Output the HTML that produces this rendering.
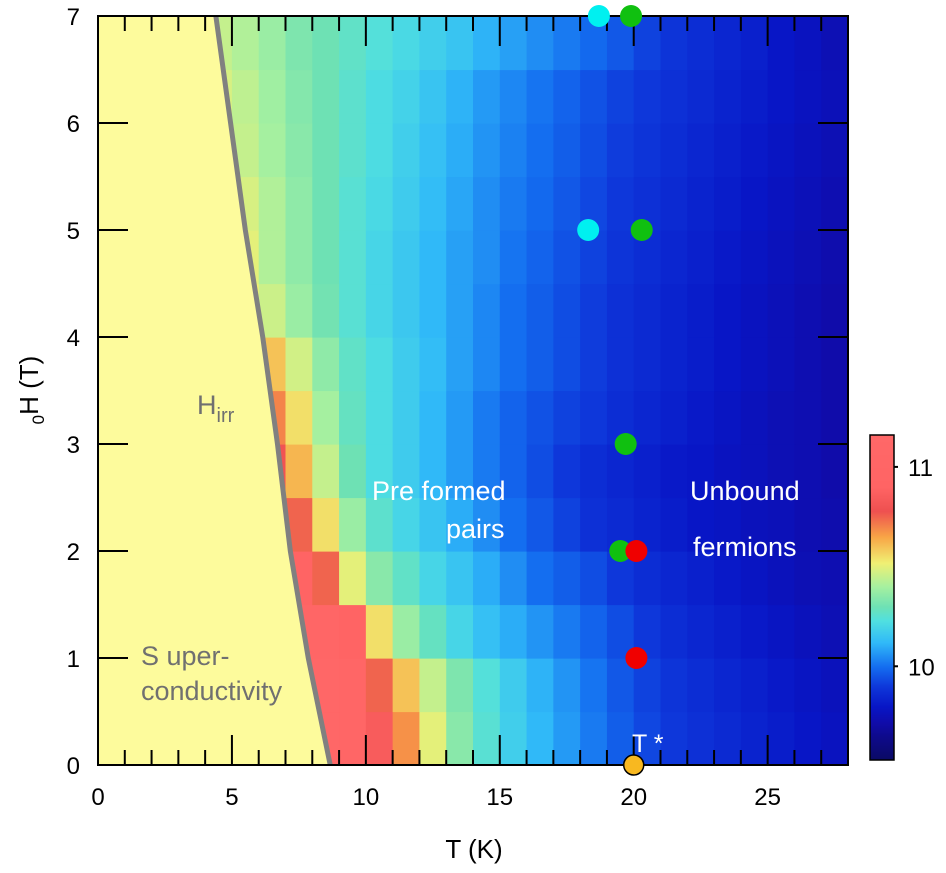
<!DOCTYPE html>
<html><head><meta charset="utf-8">
<style>
body{margin:0;background:#fff;}
svg text{font-family:"Liberation Sans",sans-serif;}
</style></head>
<body>
<svg id="chart" width="946" height="868" xmlns="http://www.w3.org/2000/svg">
<g id="heat"></g>
<g id="overlay"></g>
</svg>
<script>
// ---- data ----
const tCols = [0.5,1.5,2.5,3.5,4.5,5.5,6.5,7.5,8.5,9.5,10.5,11.5,12.5,13.5,14.5,15.5,16.5,17.5,18.5,19.5,20.5,21.5,22.5,23.5,24.5,25.5,26.5,27.5];
const hRows = [0.25,0.75,1.25,1.75,2.25,2.75,3.25,3.75,4.25,4.75,5.25,5.75,6.25,6.75];
const R = 11.0;
const heatValues = [
 [R,R,R,R,R,R,R,R,11.1,11.05,10.85,10.68,10.5,10.35,10.25,10.18,10.12,10.07,10.02,9.97,9.93,9.9,9.88,9.86,9.84,9.82,9.8,9.78],
 [R,R,R,R,R,R,R,R,11.1,11.05,10.75,10.6,10.45,10.33,10.24,10.17,10.11,10.06,10.01,9.96,9.92,9.89,9.87,9.85,9.83,9.81,9.79,9.77],
 [R,R,R,R,R,R,R,11.0,11.05,10.9,10.55,10.38,10.28,10.2,10.14,10.1,10.06,10.02,9.98,9.94,9.9,9.87,9.85,9.83,9.81,9.79,9.77,9.75],
 [R,R,R,R,R,R,R,10.9,10.75,10.5,10.35,10.27,10.2,10.15,10.1,10.05,10.0,9.97,9.94,9.9,9.87,9.85,9.83,9.81,9.79,9.77,9.75,9.74],
 [R,R,R,R,R,R,R,10.75,10.55,10.38,10.26,10.2,10.15,10.1,10.05,10.0,9.96,9.92,9.88,9.86,9.84,9.82,9.8,9.79,9.77,9.76,9.74,9.73],
 [R,R,R,R,R,R,10.8,10.62,10.45,10.3,10.22,10.17,10.12,10.07,10.02,9.98,9.94,9.9,9.87,9.85,9.83,9.81,9.8,9.78,9.77,9.75,9.74,9.72],
 [R,R,R,R,R,R,10.7,10.55,10.4,10.28,10.22,10.17,10.12,10.07,10.02,9.98,9.95,9.92,9.9,9.87,9.85,9.83,9.81,9.79,9.77,9.75,9.74,9.72],
 [R,R,R,R,R,R,10.6,10.47,10.36,10.27,10.22,10.17,10.13,10.08,10.04,10.0,9.97,9.94,9.91,9.88,9.86,9.84,9.82,9.8,9.78,9.76,9.74,9.72],
 [R,R,R,R,R,10.52,10.46,10.38,10.31,10.25,10.2,10.16,10.12,10.08,10.04,10.0,9.97,9.94,9.91,9.88,9.86,9.84,9.82,9.8,9.78,9.76,9.74,9.72],
 [R,R,R,R,R,10.5,10.42,10.36,10.3,10.25,10.2,10.16,10.12,10.08,10.05,10.01,9.98,9.95,9.92,9.89,9.87,9.85,9.83,9.81,9.79,9.77,9.75,9.73],
 [R,R,R,R,R,10.48,10.42,10.36,10.3,10.25,10.21,10.17,10.13,10.09,10.05,10.02,9.99,9.96,9.93,9.9,9.88,9.86,9.84,9.82,9.8,9.78,9.76,9.74],
 [R,R,R,R,10.5,10.45,10.4,10.35,10.3,10.26,10.22,10.18,10.14,10.1,10.06,10.03,10.0,9.97,9.94,9.91,9.89,9.87,9.85,9.83,9.81,9.79,9.77,9.75],
 [R,R,R,R,10.48,10.44,10.39,10.34,10.3,10.26,10.22,10.19,10.15,10.11,10.07,10.04,10.01,9.98,9.95,9.92,9.9,9.88,9.86,9.84,9.82,9.8,9.78,9.76],
 [R,R,R,R,10.45,10.42,10.38,10.33,10.3,10.27,10.24,10.21,10.18,10.15,10.11,10.08,10.05,10.02,9.99,9.96,9.92,9.89,9.87,9.85,9.83,9.8,9.78,9.75]
];
const hirrT = [8.67,7.85,7.18,6.7,6.15,5.5,4.95,4.4];
const hirrH = [0,1,2,3,4,5,6,7];
const ptT = [18.7,18.3,19.9,20.3,19.7,19.5,20.1,20.1,20.0];
const ptH = [7,5,7,5,3,2,2,1,0];
const ptKind = ['cyan','cyan','green','green','green','green','red','red','orange'];
const xTicks = [0,5,10,15,20,25];
const yTicks = [0,1,2,3,4,5,6,7];
const cbTicks = [10,11];

// ---- scales ----
const X0=98,X1=848,Y0=765,Y1=16, XMAX=28, YMAX=7;
const sx = t => X0 + t/XMAX*(X1-X0);
const sy = h => Y0 - h/YMAX*(Y0-Y1);
const CB_TOP=435, CB_BOT=760, CB_MAX=11.16, CB_MIN=9.53;
const scb = v => CB_BOT - (v-CB_MIN)/(CB_MAX-CB_MIN)*(CB_BOT-CB_TOP);
const stops = [[9.53,[10,10,100]],[9.65,[14,10,140]],[9.72,[16,12,170]],[9.8,[8,22,198]],[9.9,[14,55,218]],[10.0,[20,110,240]],[10.12,[48,185,248]],[10.23,[80,224,224]],[10.3,[110,225,180]],[10.4,[165,240,160]],[10.52,[240,240,115]],[10.65,[248,165,70]],[10.78,[238,80,80]],[10.9,[255,100,100]],[11.16,[255,104,104]]];
function cmap(v){
  if(v<=stops[0][0]) return 'rgb('+stops[0][1]+')';
  for(let i=1;i<stops.length;i++){ if(v<=stops[i][0]){const a=stops[i-1],b=stops[i],f=(v-a[0])/(b[0]-a[0]);
    return 'rgb('+a[1].map((c,k)=>Math.round(c+(b[1][k]-c)*f)).join(',')+')';}}
  return 'rgb('+stops[stops.length-1][1]+')';
}
const NS='http://www.w3.org/2000/svg';
function mk(tag,attrs,parent){const e=document.createElementNS(NS,tag);for(const k in attrs)e.setAttribute(k,attrs[k]);parent.appendChild(e);return e;}
const heat=document.getElementById('heat'), ov=document.getElementById('overlay');
const dT=1, dH=0.5;
hRows.forEach((h,r)=>{tCols.forEach((t,c)=>{
  const x=sx(t-dT/2), x2=sx(t+dT/2), y=sy(h+dH/2), y2=sy(h-dH/2);
  const e=mk('rect',{x:x,y:y,width:x2-x+0.6,height:y2-y+0.6,fill:cmap(heatValues[r][c])},heat);
  
  
});});
// superconducting region
let poly=`${sx(0)},${sy(0)} `+hirrT.map((t,i)=>`${sx(t)},${sy(hirrH[i])}`).join(' ')+` ${sx(0)},${sy(7)}`;
let sc=mk('polygon',{points:poly,fill:'#fdfb9c'},ov);


let hl=mk('polyline',{points:hirrT.map((t,i)=>`${sx(t)},${sy(hirrH[i])}`).join(' '),fill:'none',stroke:'#808080','stroke-width':5},ov);


// frame
let fr=mk('rect',{x:X0,y:Y1,width:X1-X0,height:Y0-Y1,fill:'none',stroke:'#000','stroke-width':2},ov);


// x ticks
for(let t=0;t<=XMAX;t++){
  const major=xTicks.includes(t), L=major?30:15;
  mk('line',{x1:sx(t),x2:sx(t),y1:Y0,y2:Y0-L,stroke:'#000','stroke-width':2},ov);
  mk('line',{x1:sx(t),x2:sx(t),y1:Y1,y2:Y1+L,stroke:'#000','stroke-width':2},ov);
}
xTicks.forEach(t=>{const e=mk('text',{x:sx(t),y:Y0+40,'font-size':24,'text-anchor':'middle'},ov);e.textContent=t;
  
  });
yTicks.forEach(h=>{
  mk('line',{x1:X0,x2:X0+30,y1:sy(h),y2:sy(h),stroke:'#000','stroke-width':2},ov);
  mk('line',{x1:X1,x2:X1-30,y1:sy(h),y2:sy(h),stroke:'#000','stroke-width':2},ov);
  const e=mk('text',{x:X0-18,y:sy(h)+9,'font-size':24,'text-anchor':'end'},ov);e.textContent=h;
  
  
});
// points
const colors={cyan:'#00f0f0',green:'#10c010',red:'#f00000',orange:'#f8b820'};
ptT.forEach((t,i)=>{const k=ptKind[i];
  const c=mk('circle',{cx:sx(t),cy:sy(ptH[i]),r:k==='orange'?10:11,fill:colors[k],stroke:k==='orange'?'#000':'none','stroke-width':1.5},ov);
  
  
});
// colorbar
const cb=document.createElementNS(NS,'g');ov.appendChild(cb);


for(let y=CB_TOP;y<CB_BOT;y++){const v=CB_MAX-(y-CB_TOP)/(CB_BOT-CB_TOP)*(CB_MAX-CB_MIN);mk('rect',{x:870,y:y,width:24,height:1.2,fill:cmap(v)},cb);}
mk('rect',{x:870,y:CB_TOP,width:24,height:CB_BOT-CB_TOP,fill:'none',stroke:'#000','stroke-width':1.5},cb);
cbTicks.forEach(v=>{mk('line',{x1:894,x2:898,y1:scb(v),y2:scb(v),stroke:'#000','stroke-width':2},cb);
  const e=mk('text',{x:908,y:scb(v)+9,'font-size':24},cb);e.textContent=v;
  
  });
</script>
<svg style="position:absolute;left:0;top:0" width="946" height="868" xmlns="http://www.w3.org/2000/svg">
<g font-family="Liberation Sans, sans-serif">
<text x="474" y="858" font-size="26" text-anchor="middle">T  (K)</text>
<text transform="translate(38,390) rotate(-90)" font-size="26" text-anchor="middle"><tspan font-size="17" dy="6">0</tspan><tspan dy="-6">H (T)</tspan></text>
<text x="197" y="414" font-size="27" fill="#707070">H<tspan font-size="20" dy="8">irr</tspan></text>
<text x="372" y="500" font-size="27" fill="#fff">Pre formed</text>
<text x="446" y="538" font-size="27" fill="#fff">pairs</text>
<text x="690" y="500" font-size="27" fill="#fff">Unbound</text>
<text x="693" y="556" font-size="27" fill="#fff">fermions</text>
<text x="141" y="665" font-size="27" fill="#707070">S uper-</text>
<text x="141" y="700" font-size="27" fill="#707070">conductivity</text>
<text x="632" y="752" font-size="25" fill="#fff">T *</text>
</g>
</svg>
</body></html>
